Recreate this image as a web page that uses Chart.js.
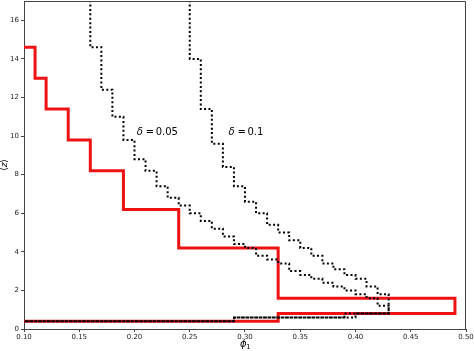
<!DOCTYPE html>
<html>
<head>
<meta charset="utf-8">
<script src="https://cdn.jsdelivr.net/npm/chart.js@4/dist/chart.umd.min.js"></script>
<style>
  html, body { margin: 0; padding: 0; background: #fff; }
  #box { width: 474px; height: 351px; }
</style>
</head>
<body>
<div id="box"><canvas id="phaseChart"></canvas></div>
<script>
// step corners: level z[i] holds from x[i] to x[i+1]
const redX = [0.10, 0.11, 0.12, 0.14, 0.16, 0.19, 0.24, 0.33, 0.49, 0.33, 0.10];
const redZ = [14.6, 13.0, 11.4, 9.8, 8.2, 6.2, 4.2, 1.6, 0.8, 0.4, 0.4];

const d05X = [0.16, 0.16, 0.17, 0.18, 0.19, 0.20, 0.21, 0.22, 0.23, 0.24, 0.25, 0.26, 0.27, 0.28,
              0.29, 0.30, 0.31, 0.32, 0.33, 0.34, 0.35, 0.36, 0.37, 0.38, 0.39, 0.40, 0.41, 0.42,
              0.43, 0.40, 0.29, 0.10];
const d05Z = [17.5, 14.6, 12.4, 11.0, 9.8, 8.8, 8.2, 7.4, 6.8, 6.4, 6.0, 5.6, 5.2, 4.8,
              4.4, 4.2, 3.8, 3.6, 3.4, 3.0, 2.8, 2.6, 2.4, 2.2, 2.0, 1.8, 1.6, 1.2,
              0.8, 0.6, 0.4, 0.4];

const d10X = [0.25, 0.25, 0.26, 0.27, 0.28, 0.29, 0.30, 0.31, 0.32, 0.33, 0.34, 0.35, 0.36,
              0.37, 0.38, 0.39, 0.40, 0.41, 0.42, 0.43, 0.39, 0.29, 0.10];
const d10Z = [17.5, 14.0, 11.4, 9.6, 8.4, 7.4, 6.6, 6.0, 5.4, 5.0, 4.6, 4.2, 3.8,
              3.4, 3.1, 2.8, 2.6, 2.2, 1.8, 0.8, 0.6, 0.4, 0.4];

const xTicks = [0.10, 0.15, 0.20, 0.25, 0.30, 0.35, 0.40, 0.45, 0.50];
const zTicks = [0, 2, 4, 6, 8, 10, 12, 14, 16];

const labels = [
  { text: '0.05', x: 0.202, z: 10.2 },
  { text: '0.1', x: 0.285, z: 10.2 }
];

function pts(xs, zs) {
  return xs.map((x, i) => ({ x: x, y: zs[i] }));
}

const spine = '#444';
const tickFont = { family: 'DejaVu Sans', size: 7 };

const textPlugin = {
  id: 'textPlugin',
  afterDraw(chart) {
    const c = chart.ctx;
    const a = chart.chartArea;
    const xs = chart.scales.x, ys = chart.scales.y;
    c.save();
    // top and right spines
    c.strokeStyle = spine;
    c.lineWidth = 1;
    c.beginPath();
    c.moveTo(a.left, a.top + 0.5);
    c.lineTo(a.right - 0.5, a.top + 0.5);
    c.lineTo(a.right - 0.5, a.bottom);
    c.stroke();

    c.fillStyle = '#000';
    c.textBaseline = 'middle';
    c.textAlign = 'left';
    labels.forEach(l => {
      const px = xs.getPixelForValue(l.x);
      const py = ys.getPixelForValue(l.z);
      c.font = 'italic 10px "DejaVu Sans"';
      c.fillText('δ', px, py);
      c.font = '10px "DejaVu Sans"';
      c.fillText('=', px + 9, py);
      c.fillText(l.text, px + 19, py);
    });

    // x title
    const cx = (a.left + a.right) / 2;
    c.font = 'italic 10px "DejaVu Sans"';
    c.fillText('ϕ', cx - 5, 344);
    c.font = '7px "DejaVu Sans"';
    c.fillText('1', cx + 1, 347);

    // y title
    c.translate(5, (a.top + a.bottom) / 2);
    c.rotate(-Math.PI / 2);
    c.font = '9px "DejaVu Sans"';
    const w1 = c.measureText('⟨').width;
    c.font = 'italic 9px "DejaVu Sans"';
    const wz = c.measureText('z').width;
    const start = -(w1 * 2 + wz) / 2;
    c.font = '9px "DejaVu Sans"';
    c.fillText('⟨', start, 0);
    c.font = 'italic 9px "DejaVu Sans"';
    c.fillText('z', start + w1, 0);
    c.font = '9px "DejaVu Sans"';
    c.fillText('⟩', start + w1 + wz, 0);
    c.restore();
  }
};

const dotted = {
  borderColor: '#000',
  borderWidth: 2,
  borderDash: [2, 2.4],
  borderCapStyle: 'butt',
  pointRadius: 0,
  fill: false,
  stepped: 'before',
  tension: 0
};

new Chart(document.getElementById('phaseChart').getContext('2d'), {
  type: 'line',
  data: {
    datasets: [
      Object.assign({ label: 'δ = 0.05', data: pts(d05X, d05Z) }, dotted),
      Object.assign({ label: 'δ = 0.1', data: pts(d10X, d10Z) }, dotted),
      {
        label: 'region',
        data: pts(redX, redZ),
        borderColor: 'rgb(238, 18, 18)',
        borderWidth: 3,
        pointRadius: 0,
        fill: false,
        stepped: 'before',
        borderJoinStyle: 'miter'
      }
    ]
  },
  options: {
    responsive: true,
    maintainAspectRatio: false,
    animation: false,
    layout: { padding: { top: 1, right: 8, left: 0, bottom: 0 } },
    plugins: { legend: { display: false }, tooltip: { enabled: false } },
    scales: {
      x: {
        type: 'linear',
        min: 0.10,
        max: 0.50,
        afterBuildTicks: s => { s.ticks = xTicks.map(v => ({ value: v })); },
        afterFit: s => { s.height = 22; s.paddingLeft = 0; s.paddingRight = 0; },
        ticks: { font: tickFont, color: '#222', padding: 1, maxRotation: 0,
                 callback: v => v.toFixed(2) },
        grid: { drawOnChartArea: false, drawTicks: true, tickLength: 3, color: spine },
        border: { display: true, color: spine, width: 1 }
      },
      y: {
        type: 'linear',
        min: 0,
        max: 17,
        afterBuildTicks: s => { s.ticks = zTicks.map(v => ({ value: v })); },
        afterFit: s => { s.width = 24; s.paddingTop = 0; s.paddingBottom = 0; },
        ticks: { font: tickFont, color: '#222', padding: 2 },
        grid: { drawOnChartArea: false, drawTicks: true, tickLength: 3, color: spine },
        border: { display: true, color: spine, width: 1 }
      }
    }
  },
  plugins: [textPlugin]
});
</script>
</body>
</html>
